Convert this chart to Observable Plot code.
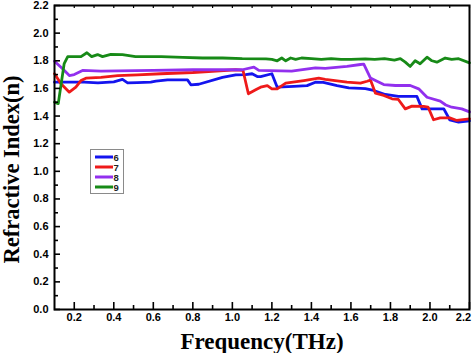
<!DOCTYPE html>
<html><head><meta charset="utf-8">
<script src="https://cdn.jsdelivr.net/npm/d3@7"></script>
<script src="https://cdn.jsdelivr.net/npm/@observablehq/plot@0.6"></script>
<style>
body{margin:0;background:#fff}
#wrap{position:relative;width:474px;height:353px}
#legend{position:absolute;left:90px;top:149px}
</style></head><body><div id="wrap"></div>
<script>
const seriesNames = ["6", "7", "8", "9"];
const seriesColors = ["#1414ee", "#ee1a1a", "#9230ee", "#178a17"];

const freq6 = [0.10,0.25,0.32,0.40,0.444,0.47,0.52,0.587,0.613,0.672,0.773,0.79,0.83,0.95,1.017,1.067,1.10,1.126,1.143,1.20,1.227,1.311,1.378,1.42,1.46,1.53,1.589,1.648,1.673,1.715,1.774,1.84,1.934,1.96,2.07,2.10,2.145,2.20];
const n6    = [1.645,1.645,1.640,1.648,1.665,1.640,1.642,1.645,1.652,1.662,1.662,1.626,1.630,1.680,1.698,1.700,1.706,1.686,1.686,1.706,1.609,1.614,1.620,1.645,1.643,1.620,1.604,1.600,1.598,1.585,1.556,1.542,1.542,1.452,1.452,1.373,1.356,1.365];

const freq7 = [0.10,0.133,0.175,0.208,0.234,0.259,0.335,0.42,0.52,0.638,0.80,1.017,1.054,1.081,1.118,1.143,1.177,1.20,1.227,1.27,1.362,1.437,1.47,1.58,1.648,1.682,1.699,1.724,1.766,1.808,1.84,1.875,1.909,1.968,1.99,2.018,2.052,2.10,2.136,2.20];
const n7    = [1.706,1.633,1.573,1.609,1.657,1.674,1.680,1.693,1.698,1.706,1.715,1.735,1.730,1.561,1.590,1.609,1.620,1.597,1.597,1.638,1.657,1.674,1.665,1.645,1.638,1.652,1.660,1.565,1.549,1.525,1.520,1.452,1.472,1.470,1.465,1.373,1.387,1.387,1.368,1.380];

const freq8 = [0.10,0.141,0.175,0.20,0.242,0.335,0.60,0.80,1.05,1.109,1.134,1.30,1.42,1.47,1.58,1.648,1.665,1.699,1.724,1.766,1.825,1.90,1.943,1.985,2.052,2.08,2.11,2.161,2.20];
const n8    = [1.797,1.742,1.693,1.700,1.730,1.725,1.730,1.735,1.735,1.754,1.730,1.725,1.749,1.745,1.759,1.773,1.775,1.675,1.657,1.628,1.621,1.621,1.597,1.536,1.508,1.480,1.464,1.452,1.430];

const freq9 = [0.10,0.119,0.149,0.167,0.234,0.264,0.288,0.318,0.343,0.385,0.444,0.51,0.64,0.75,0.85,0.95,1.05,1.17,1.20,1.227,1.25,1.27,1.295,1.32,1.35,1.40,1.45,1.50,1.55,1.60,1.673,1.72,1.77,1.82,1.85,1.875,1.90,1.925,1.95,1.985,2.01,2.035,2.077,2.11,2.145,2.20];
const n9    = [1.500,1.490,1.780,1.830,1.830,1.858,1.830,1.845,1.830,1.846,1.845,1.830,1.830,1.825,1.820,1.820,1.815,1.814,1.810,1.800,1.820,1.800,1.820,1.810,1.820,1.815,1.810,1.815,1.810,1.810,1.814,1.810,1.815,1.805,1.815,1.790,1.759,1.800,1.778,1.826,1.800,1.790,1.820,1.810,1.815,1.785];

const xMajorTicks = [0.2,0.4,0.6,0.8,1.0,1.2,1.4,1.6,1.8,2.0,2.2];
const xMinorTicks = [0.3,0.5,0.7,0.9,1.1,1.3,1.5,1.7,1.9,2.1];
const yMajorTicks = [0.0,0.2,0.4,0.6,0.8,1.0,1.2,1.4,1.6,1.8,2.0,2.2];
const yMinorTicks = [0.1,0.3,0.5,0.7,0.9,1.1,1.3,1.5,1.7,1.9,2.1];

const freqs = [freq6, freq7, freq8, freq9];
const vals = [n6, n7, n8, n9];
const data = seriesNames.flatMap((s, i) => freqs[i].map((f, j) => ({series: s, f, n: vals[i][j]})));

const W = 474, H = 353, mL = 54, mR = 5, mT = 5, mB = 44;
const plotW = W - mL - mR, plotH = H - mT - mB;
const sans = "'Liberation Sans', Arial, sans-serif";
const serif = "'Liberation Serif', 'Times New Roman', serif";
const fmt = d3.format(".1f");
const lastX = xMajorTicks[xMajorTicks.length - 1];

const chart = Plot.plot({
  width: W, height: H,
  marginLeft: mL, marginRight: mR, marginTop: mT, marginBottom: mB,
  style: {fontFamily: sans, fontSize: "11px", fontWeight: "bold", color: "black", background: "white"},
  x: {domain: [0.1, 2.2], label: null},
  y: {domain: [0, 2.2], label: null},
  color: {domain: seriesNames, range: seriesColors},
  marks: [
    Plot.line(data, {x: "f", y: "n", z: "series", stroke: "series", strokeWidth: 2.8, strokeLinejoin: "round"}),
    Plot.tickX(xMajorTicks, {x: d => d, insetTop: plotH - 7, stroke: "black", strokeWidth: 1.6}),
    Plot.tickX(xMinorTicks, {x: d => d, insetTop: plotH - 4, stroke: "black", strokeWidth: 1.6}),
    Plot.tickX(xMajorTicks.concat(xMinorTicks), {x: d => d, insetBottom: plotH - 3, stroke: "black", strokeWidth: 1.2}),
    Plot.tickY(yMajorTicks, {y: d => d, insetRight: plotW - 6, stroke: "black", strokeWidth: 1.6}),
    Plot.tickY(yMinorTicks, {y: d => d, insetRight: plotW - 4, stroke: "black", strokeWidth: 1.6}),
    Plot.axisX({ticks: xMajorTicks.slice(0, -1), tickSize: 0, tickPadding: 4, tickFormat: fmt, fontSize: 11, fontWeight: "bold", fontFamily: sans, label: null}),
    Plot.text([lastX], {x: d => d, text: d => fmt(d), frameAnchor: "bottom", lineAnchor: "top", textAnchor: "middle", dy: 4, dx: -6, fontSize: 11, fontWeight: "bold", fontFamily: sans, fill: "black"}),
    Plot.axisY({ticks: yMajorTicks, tickSize: 0, tickPadding: 6, tickFormat: fmt, fontSize: 11, fontWeight: "bold", fontFamily: sans, label: null}),
    Plot.frame({stroke: "black", strokeWidth: 2}),
    Plot.text(["Frequency(THz)"], {frameAnchor: "bottom", textAnchor: "middle", lineAnchor: "middle", dy: 32, fontSize: 23, fontWeight: "bold", fontFamily: serif, fill: "black"}),
    Plot.text(["Refractive Index(n)"], {frameAnchor: "left", textAnchor: "middle", lineAnchor: "middle", rotate: -90, dx: -43, dy: 12, fontSize: 22.5, fontWeight: "bold", fontFamily: serif, fill: "black"})
  ]
});

const wrap = document.getElementById("wrap");
wrap.appendChild(chart);

// legend
const lg = d3.select(wrap).append("svg").attr("id", "legend").attr("width", 35).attr("height", 46);
lg.append("rect").attr("x", 0.5).attr("y", 0.5).attr("width", 33).attr("height", 44)
  .attr("fill", "white").attr("stroke", "#8a8a8a").attr("stroke-width", 1);
seriesNames.forEach((s, i) => {
  const yy = 8 + i * 10;
  lg.append("line").attr("x1", 5).attr("x2", 23).attr("y1", yy).attr("y2", yy)
    .attr("stroke", seriesColors[i]).attr("stroke-width", 3);
  lg.append("text").attr("x", 23.5).attr("y", yy + 3.5).text(s)
    .attr("font-family", sans).attr("font-weight", "bold").attr("font-size", 9.5).attr("fill", "#222");
});
</script></body></html>
